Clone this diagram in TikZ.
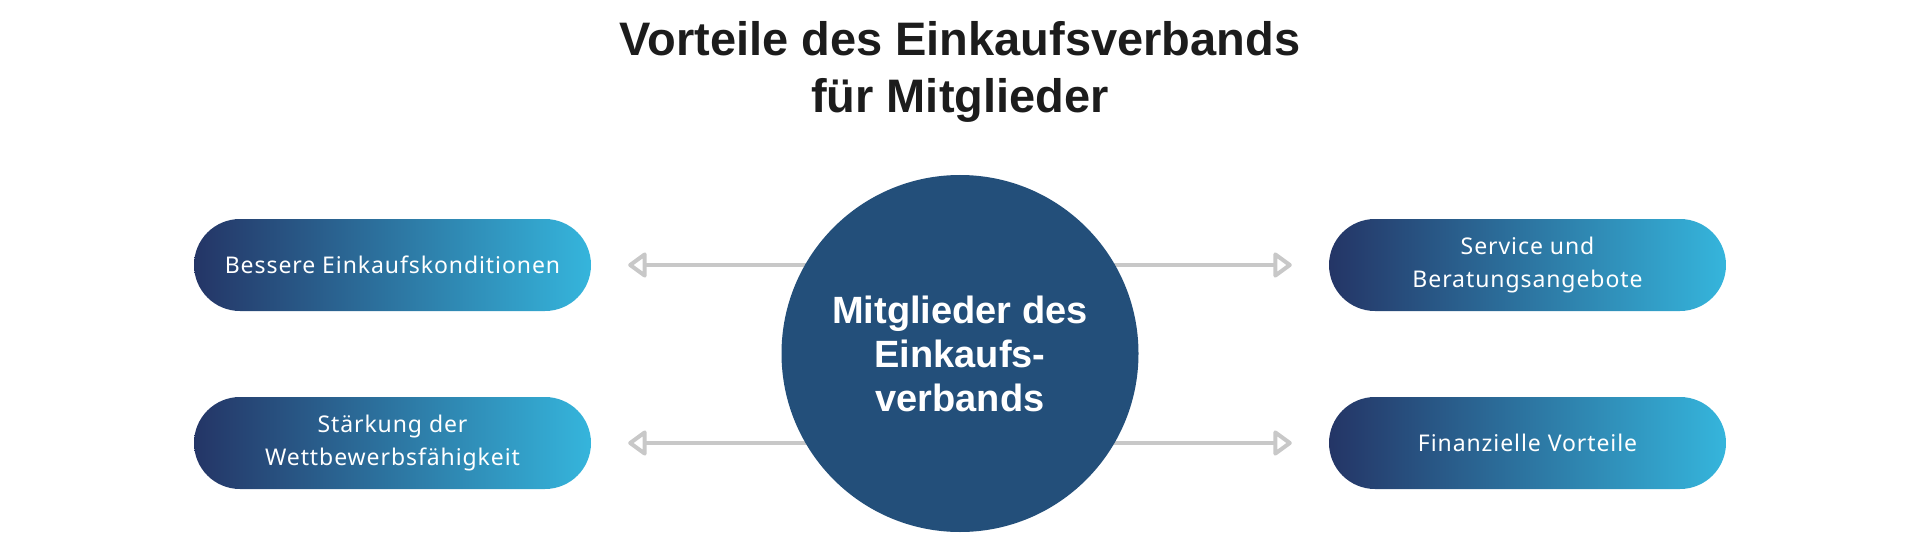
\documentclass[tikz,border=0pt]{standalone}
\usepackage{fontspec}
\setmainfont{Liberation Sans}
\newfontfamily\boxfont[LetterSpace=4.0]{Noto Sans}
\usetikzlibrary{arrows.meta,positioning,backgrounds}

\definecolor{hubblue}{RGB}{35,79,122}
\definecolor{boxdark}{RGB}{36,53,102}
\definecolor{boxlight}{RGB}{53,181,220}
\definecolor{linkgray}{RGB}{200,200,200}
\definecolor{titleblack}{RGB}{28,28,28}

\begin{document}
\begin{tikzpicture}[x=1pt,y=1pt,on grid]
       \tikzstyle{benefit}=[rounded corners=46pt, minimum width=397pt, minimum height=92pt,
              left color=boxdark, right color=boxlight, text=white, align=center,
              font=\boxfont\fontsize{23}{33}\selectfont]
       \tikzstyle{link}=[draw=linkgray, line width=4pt,
              -{Triangle[open,length=20pt,width=28pt,round]}, shorten >=37pt]

       \useasboundingbox (0,0) rectangle (1920,550);

       \node[font=\bfseries\fontsize{47}{57}\selectfont, text=titleblack, align=center]
              (title) at (960,478) {Vorteile des Einkaufsverbands\\für Mitglieder};

       \node[circle, fill=hubblue, minimum size=357pt, inner sep=0pt, text=white,
              align=center, font=\bfseries\fontsize{38}{44}\selectfont]
              (hub) at (960,196.5) {Mitglieder des\\Einkaufs-\\verbands};

       \node[benefit, above left=88.5pt and 567.5pt of hub] (einkauf) {Bessere Einkaufskonditionen};
       \node[benefit, below left=89.5pt and 567.5pt of hub] (wettbewerb) {Stärkung der\\Wettbewerbsfähigkeit};
       \node[benefit, above right=88.5pt and 567.5pt of hub] (service) {Service und\\Beratungsangebote};
       \node[benefit, below right=89.5pt and 567.5pt of hub] (finanzen) {Finanzielle Vorteile};

       \begin{scope}[on background layer]
       \draw[link] (hub.center |- einkauf.east) -- (einkauf.east);
       \draw[link] (hub.center |- wettbewerb.east) -- (wettbewerb.east);
       \draw[link] (hub.center |- service.west) -- (service.west);
       \draw[link] (hub.center |- finanzen.west) -- (finanzen.west);
       \end{scope}
     \end{tikzpicture}
\end{document}
